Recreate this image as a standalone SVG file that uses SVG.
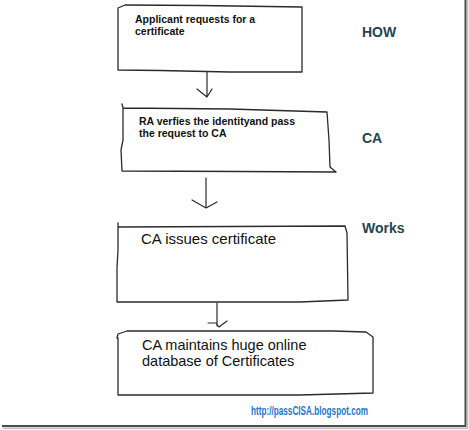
<svg xmlns="http://www.w3.org/2000/svg" width="469" height="430" viewBox="0 0 469 430">
<style>
.box{fill:none;stroke:#2b2b2b;stroke-width:1.3;stroke-linejoin:round;stroke-linecap:round}
.con{fill:none;stroke:#2b2b2b;stroke-width:1.2;stroke-linecap:round;stroke-linejoin:round}
.t1{font-family:"Liberation Sans",Arial,sans-serif;font-size:10.5px;font-weight:bold;fill:#111}
.t2{font-family:"Liberation Sans",Arial,sans-serif;font-size:14.5px;fill:#111}
.side{font-family:"Liberation Sans",Arial,sans-serif;font-size:14px;font-weight:bold;fill:#244550}
.url{font-family:"Liberation Sans",Arial,sans-serif;font-size:13px;font-weight:bold;fill:#1f74c8}
</style>
<rect width="469" height="430" fill="#fff"/>
<g id="frame">
<line x1="465.5" y1="0" x2="465.5" y2="427" stroke="#4a4a4a" stroke-width="2"/>
<line x1="467.5" y1="0" x2="467.5" y2="428" stroke="#bbb" stroke-width="1.5"/>
<line x1="2" y1="426" x2="466" y2="426" stroke="#4a4a4a" stroke-width="2.2"/>
<line x1="3" y1="428.2" x2="468" y2="428.2" stroke="#bbb" stroke-width="1.5"/>
</g>
<g id="node1">
<path class="box" d="M118,8 L125,5 L200,5.5 L302,7 L302,72 L230,72 L160,70.5 L118,70 Z"/>
<text class="t1" x="135" y="23">Applicant requests for a</text>
<text class="t1" x="135" y="35">certificate</text>
</g>
<g id="node2">
<path class="box" d="M122,104 L123,108 L230,109 L327,112 L329,140 L330,167 L336,172 L240,171.5 L122,171 L121,150 L123,140 L123,108"/>
<text class="t1" x="139" y="125">RA verfies the identityand pass</text>
<text class="t1" x="139" y="137">the request to CA</text>
</g>
<g id="node3">
<path class="box" d="M118,223 L118,227 L345,226 L347,233 L348,300 L300,302 L117,302 L117,268 L118,250 L118,227"/>
<text class="t2" x="141" y="244" style="font-size:15px">CA issues certificate</text>
</g>
<g id="node4">
<path class="box" d="M117,338 L118,334 L127,331 L333,331 L366,332 L373,337 L373,393 L300,395 L118,395 L118,338"/>
<text class="t2" x="142" y="350">CA maintains huge online</text>
<text class="t2" x="142" y="366">database of Certificates</text>
</g>
<g id="labels">
<text class="side" x="362" y="37">HOW</text>
<text class="side" x="362" y="143">CA</text>
<text class="side" x="362" y="233">Works</text>
<text class="url" x="251" y="415" textLength="117" lengthAdjust="spacingAndGlyphs">http://passCISA.blogspot.com</text>
</g>
<g id="connectors">
<path class="con" d="M207,72 L207,97 M197,89 L207,97 L212,89"/>
<path class="con" d="M206,178 L206,208 M192,200 L206,208 L217,202"/>
<path class="con" d="M217,303 L217,326 M208,323 L216,323 L219,327 L223,324 L227,321"/>
</g>
</svg>
